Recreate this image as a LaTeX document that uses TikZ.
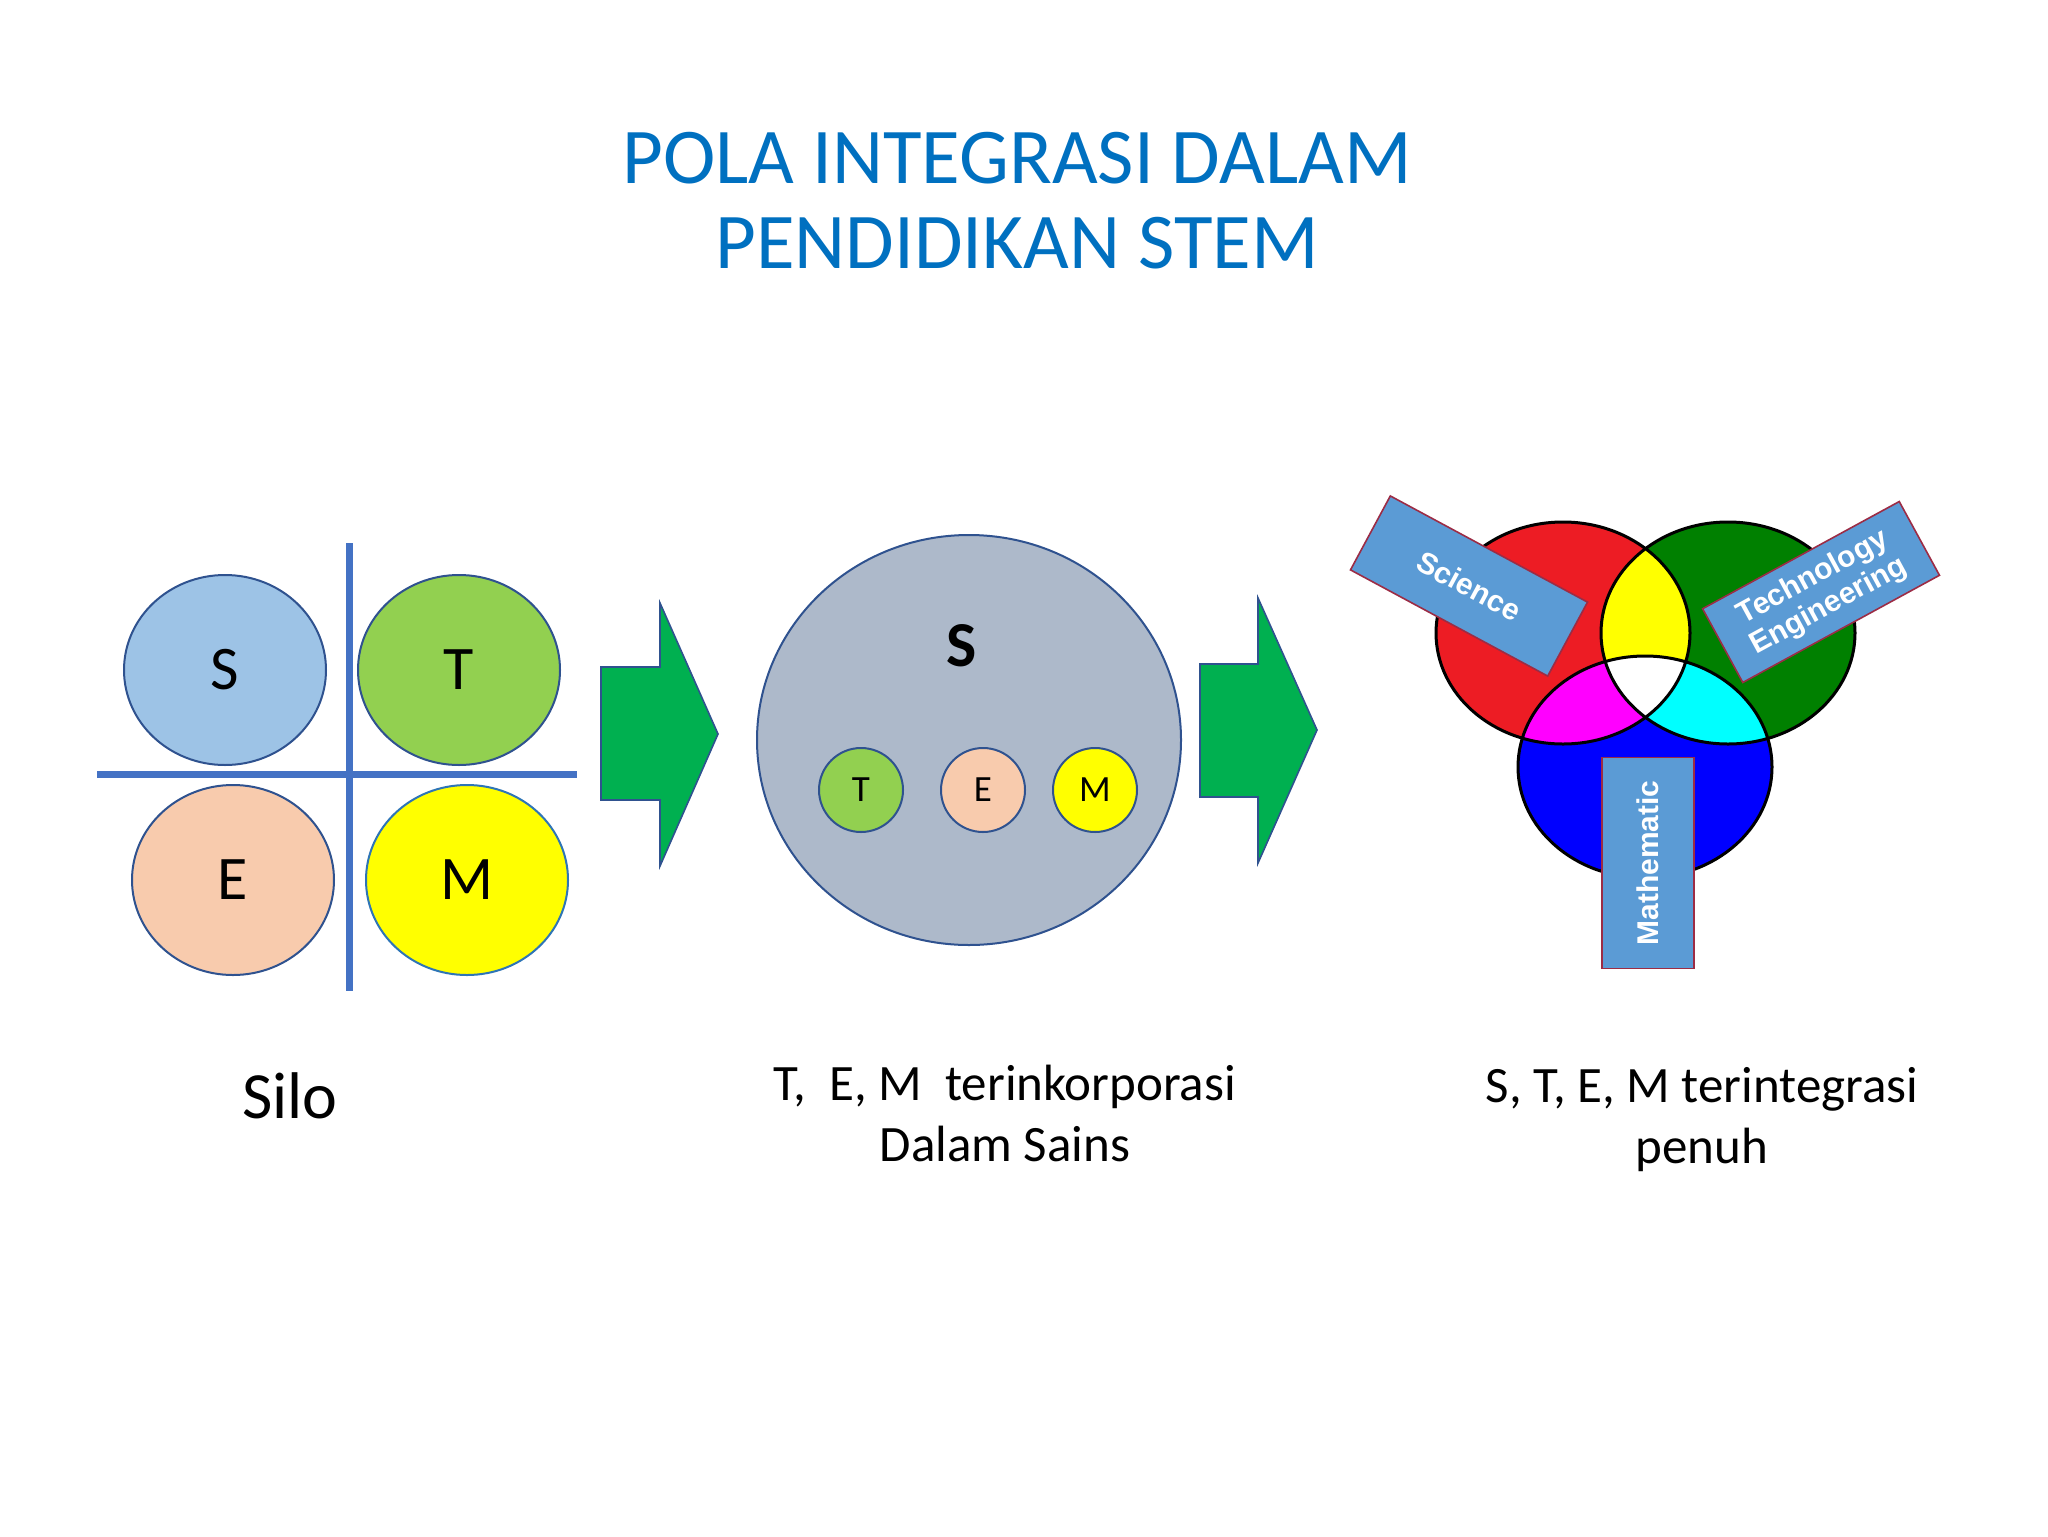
\documentclass[tikz,border=0pt]{standalone}
\usepackage{fontspec}
\setmainfont{Carlito}
\newfontfamily\tagfont{Liberation Sans}
\usetikzlibrary{positioning,shapes.geometric}

\definecolor{titleblue}{HTML}{0070C0}
\definecolor{edgeblue}{HTML}{2F528F}
\definecolor{lineblue}{HTML}{4472C4}
\definecolor{sblue}{HTML}{9DC3E6}
\definecolor{tgreen}{HTML}{92D050}
\definecolor{epeach}{HTML}{F8CBAD}
\definecolor{myellow}{HTML}{FFFF00}
\definecolor{sainsgrey}{HTML}{ADB9CA}
\definecolor{arrowgreen}{HTML}{00B050}
\definecolor{tagblue}{HTML}{5B9BD5}
\definecolor{tagred}{HTML}{9C2C45}
\definecolor{vred}{HTML}{ED1C24}
\definecolor{vgreen}{HTML}{008000}
\definecolor{vblue}{HTML}{0000FF}
\definecolor{vmagenta}{HTML}{FF00FF}
\definecolor{vcyan}{HTML}{00FFFF}

\begin{document}
\begin{tikzpicture}[
  x=0.5pt, y=0.5pt,
  title/.style={align=center, text=titleblue, font=\fontsize{39.5}{42.5}\selectfont},
  quad/.style={ellipse, draw=edgeblue, line width=1pt, minimum width=101pt,
               minimum height=95pt, inner sep=0pt, font=\fontsize{31}{36}\selectfont},
  sub/.style={circle, draw=edgeblue, line width=1pt, minimum size=42pt,
              inner sep=0pt, font=\fontsize{18.5}{22}\selectfont},
  divider/.style={draw=lineblue, line width=3.5pt},
  blockarrow/.style={fill=arrowgreen, draw=edgeblue, line width=0.8pt},
  vring/.style={x radius=63.5pt, y radius=55.5pt},
  tag/.style={draw=tagred, line width=0.8pt, fill=tagblue, text=white, align=center,
              minimum width=112pt, minimum height=42pt, inner sep=0pt,
              font=\tagfont\bfseries\fontsize{15}{16.5}\selectfont},
  caption/.style={align=center, font=\fontsize{25.5}{30.5}\selectfont}
]
% page
\path[use as bounding box, fill=white] (0,0) rectangle (2048,-1536);

% title
\node[title] (title) at (1017,-201) {POLA INTEGRASI DALAM\\PENDIDIKAN STEM};

% Silo column
\node[quad, fill=sblue] (qS) at (225,-670) {S};
\node[quad, fill=tgreen, right=15pt of qS] (qT) {T};
\node[quad, fill=epeach, below=9pt of qS, xshift=4pt] (qE) {E};
\node[quad, fill=myellow, draw={rgb,255:red,46;green,117;blue,182}, below=9pt of qT, xshift=4pt] (qM) {M};
\coordinate (vtop) at (349,-543);
\coordinate (vbot) at (349,-991);
\coordinate (hleft) at (97,-774);
\coordinate (hright) at (577,-774);
\draw[divider] (vtop) -- (vbot);
\draw[divider] (hleft) -- (hright);

% first arrow
\draw[blockarrow] (601,-667) -- (660,-667) -- (660,-603) -- (718,-734)
  -- (660,-866) -- (660,-800) -- (601,-800) -- cycle;

% Sains column
\node[ellipse, draw=edgeblue, line width=1pt, fill=sainsgrey,
      minimum width=212pt, minimum height=205pt] (sains) at (969,-740) {};
\node[font=\bfseries\fontsize{32}{36}\selectfont] (sainsS) at (962,-646) {S};
\node[sub, fill=tgreen] (sT) at (861,-790) {T};
\node[sub, fill=epeach, right=18pt of sT] (sE) {E};
\node[sub, fill=myellow, right=13pt of sE] (sM) {M};

% second arrow
\draw[blockarrow] (1200,-664) -- (1258,-664) -- (1258,-598) -- (1317,-730)
  -- (1258,-863) -- (1258,-797) -- (1200,-797) -- cycle;

% integrated Venn
\coordinate (cS) at (1563,-633);
\coordinate (cT) at (1728,-633);
\coordinate (cM) at (1645,-767);
\fill[vred, vring] (cS) ellipse [];
\fill[vgreen, vring] (cT) ellipse [];
\fill[vblue, vring] (cM) ellipse [];
\begin{scope}
  \clip[vring] (cS) ellipse [];
  \fill[myellow, vring] (cT) ellipse [];
  \fill[vmagenta, vring] (cM) ellipse [];
\end{scope}
\begin{scope}
  \clip[vring] (cT) ellipse [];
  \fill[vcyan, vring] (cM) ellipse [];
  \clip[vring] (cS) ellipse [];
  \fill[white, vring] (cM) ellipse [];
\end{scope}
\draw[black, line width=1.5pt, vring] (cS) ellipse [] (cT) ellipse [] (cM) ellipse [];

\node[tag, rotate=-28.3] (tSci) at (1469,-586) {Science};
\node[tag, rotate=28.6] (tTech) at (1821,-592) {Technology\\Engineering};
\node[tag, rotate=90, minimum width=105.5pt, minimum height=46pt] (tMath) at (1648,-863) {Mathematic};

% captions
\node[caption, font=\fontsize{33}{40}\selectfont, anchor=base] (capSilo) at (290,-1118) {Silo};
\node[caption] (capSains) at (1005,-1113) {T,~ E, M~ terinkorporasi\\Dalam Sains};
\node[caption] (capFull) at (1702,-1120) {S, T, E, M terintegrasi\\penuh};
\end{tikzpicture}
\end{document}
